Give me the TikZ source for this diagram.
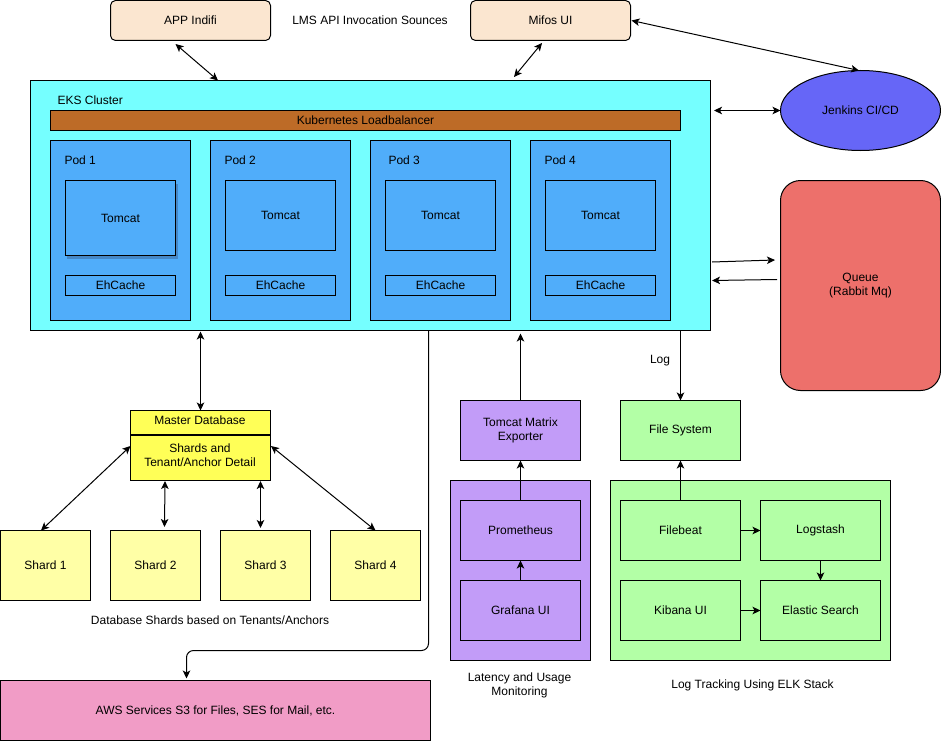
\documentclass[tikz,border=0pt]{standalone}
\usepackage{fontspec}
\setmainfont{Liberation Sans}
\usetikzlibrary{arrows.meta,shapes.geometric}
\definecolor{cPeach}{HTML}{FBE6D0}
\definecolor{cCyan}{HTML}{75FFFF}
\definecolor{cBrown}{HTML}{BD6B27}
\definecolor{cPod}{HTML}{50ADFA}
\definecolor{cPodDark}{HTML}{4588C8}
\definecolor{cJenkins}{HTML}{6666F7}
\definecolor{cQueue}{HTML}{ED706B}
\definecolor{cYellow}{HTML}{FFFF57}
\definecolor{cShard}{HTML}{FFFFA6}
\definecolor{cPurple}{HTML}{C29CF8}
\definecolor{cGreen}{HTML}{B3FFA6}
\definecolor{cPink}{HTML}{F19CC6}
\tikzset{
  box/.style={draw=black,line width=1pt,inner sep=0pt,outer sep=0pt,anchor=north west,
    align=center,font=\fontsize{12}{14}\selectfont},
  peach/.style={box,fill=cPeach,rounded corners=5pt},
  pod/.style={box,fill=cPod},
  yel/.style={box,fill=cYellow},
  shard/.style={box,fill=cShard,minimum width=90pt,minimum height=70pt},
  purp/.style={box,fill=cPurple},
  grn/.style={box,fill=cGreen},
  txt/.style={inner sep=0pt,outer sep=0pt,align=center,font=\fontsize{12}{14}\selectfont},
  txtl/.style={txt,anchor=west},
  link/.style={draw=black,line width=1pt,-{Stealth[length=8pt,width=7.5pt,inset=2pt]}},
  dlink/.style={draw=black,line width=1pt,{Stealth[length=8pt,width=7.5pt,inset=2pt]}-{Stealth[length=8pt,width=7.5pt,inset=2pt]}},
}
\begin{document}
\begin{tikzpicture}[x=1pt,y=-1pt]
\useasboundingbox (0,0) rectangle (941,741);
% top sources
\node[peach,minimum width=160pt,minimum height=40pt] (app) at (110.5,0.5) {APP Indifi};
\node[peach,minimum width=160pt,minimum height=40pt] (mifos) at (470.5,0.5) {Mifos UI};
\node[txt] (lms) at (370,20.5) {LMS API Invocation Sounces};
% EKS
\node[box,fill=cCyan,minimum width=680pt,minimum height=250pt] (eks) at (30.5,80.5) {};
\node[txtl] (ekslabel) at (57.5,100.5) {EKS Cluster};
\node[box,fill=cBrown,minimum width=630pt,minimum height=20pt] (lb) at (50.5,110.5) {Kubernetes Loadbalancer};
% pods
\node[pod,minimum width=140pt,minimum height=180pt] (pod1) at (50.5,140.5) {};
\node[pod,minimum width=140pt,minimum height=180pt] (pod2) at (210.5,140.5) {};
\node[pod,minimum width=140pt,minimum height=180pt] (pod3) at (370.5,140.5) {};
\node[pod,minimum width=140pt,minimum height=180pt] (pod4) at (530.5,140.5) {};
\node[txtl] (pod1l) at (64.5,160.5) {Pod 1};
\node[txtl] (pod2l) at (224.5,160.5) {Pod 2};
\node[txtl] (pod3l) at (388.5,160.5) {Pod 3};
\node[txtl] (pod4l) at (544.5,160.5) {Pod 4};
\fill[cPodDark] (66.8,183.5) rectangle (178,258.5);
\node[pod,minimum width=110pt,minimum height=75pt] (tc1) at (65.5,180.5) {Tomcat};
\node[pod,minimum width=110pt,minimum height=70pt] (tc2) at (225.5,180.5) {Tomcat};
\node[pod,minimum width=110pt,minimum height=70pt] (tc3) at (385.5,180.5) {Tomcat};
\node[pod,minimum width=110pt,minimum height=70pt] (tc4) at (545.5,180.5) {Tomcat};
\node[pod,minimum width=110pt,minimum height=20pt] (eh1) at (65.5,275.5) {EhCache};
\node[pod,minimum width=110pt,minimum height=20pt] (eh2) at (225.5,275.5) {EhCache};
\node[pod,minimum width=110pt,minimum height=20pt] (eh3) at (385.5,275.5) {EhCache};
\node[pod,minimum width=110pt,minimum height=20pt] (eh4) at (545.5,275.5) {EhCache};
% right
\node[draw=black,line width=1pt,fill=cJenkins,ellipse,inner sep=0pt,outer sep=0pt,minimum width=160pt,minimum height=80pt,
  font=\fontsize{12}{14}\selectfont] (jenkins) at (860.5,110.5) {Jenkins CI/CD};
\node[box,fill=cQueue,rounded corners=20pt,minimum width=160pt,minimum height=210pt] (queue) at (780.5,180.5) {Queue\\(Rabbit Mq)};
\node[txt] (loglabel) at (660,361) {Log};
% database
\node[yel,minimum width=140pt,minimum height=24pt] (mdb) at (130.5,410.5) {};
\node[txt] (mdbl) at (200,420.5) {Master Database};
\node[yel,minimum width=140pt,minimum height=45pt] (dbd) at (130.5,435.5) {};
\node[txt] (dbdl) at (200,455.5) {Shards and\\Tenant/Anchor Detail};
\node[shard] (s1) at (0.5,530.5) {Shard 1};
\node[shard] (s2) at (110.5,530.5) {Shard 2};
\node[shard] (s3) at (220.5,530.5) {Shard 3};
\node[shard] (s4) at (330.5,530.5) {Shard 4};
\node[txt] (dbnote) at (210,620.5) {Database Shards based on Tenants/Anchors};
\node[box,fill=cPink,minimum width=430pt,minimum height=60pt] (aws) at (0.5,680.5) {AWS Services S3 for Files, SES for Mail, etc.};
% monitoring
\node[purp,minimum width=120pt,minimum height=60pt] (matrix) at (460.5,400.5) {Tomcat Matrix\\Exporter};
\node[purp,minimum width=140pt,minimum height=180pt] (monbg) at (450.5,480.5) {};
\node[purp,minimum width=120pt,minimum height=60pt] (prom) at (460.5,500.5) {Prometheus};
\node[purp,minimum width=120pt,minimum height=60pt] (graf) at (460.5,580.5) {Grafana UI};
\node[txt] (monnote) at (519.5,685.7) {Latency and Usage\\Monitoring};
% logging
\node[grn,minimum width=120pt,minimum height=60pt] (fs) at (620.5,400.5) {File System};
\node[grn,minimum width=280pt,minimum height=180pt] (elkbg) at (610.5,480.5) {};
\node[grn,minimum width=120pt,minimum height=60pt] (fb) at (620.5,500.5) {Filebeat};
\node[grn,minimum width=120pt,minimum height=60pt] (ls) at (760.5,500.5) {Logstash};
\node[grn,minimum width=120pt,minimum height=60pt] (kb) at (620.5,580.5) {Kibana UI};
\node[grn,minimum width=120pt,minimum height=60pt] (es) at (760.5,580.5) {Elastic Search};
\node[txt] (elknote) at (752.5,685.7) {Log Tracking Using ELK Stack};
% connectors
\draw[dlink] ([shift={(-15,3.5)}]app.south) -- ([shift={(-152.5,0)}]eks.north);
\draw[dlink] ([shift={(-8.5,2.5)}]mifos.south) -- ([shift={(143.5,-3.5)}]eks.north);
\draw[dlink] ([shift={(1,0)}]mifos.east) -- ([shift={(-1.5,0)}]jenkins.north);
\draw[dlink] ([shift={(3.5,30)}]eks.north east) -- (jenkins.west);
\draw[link] ([shift={(1.5,56.5)}]eks.east) -- ([shift={(-5.5,-25.5)}]queue.west);
\draw[link] ([shift={(-3.5,-6)}]queue.west) -- ([shift={(1.5,75)}]eks.east);
\draw[link] ([shift={(310,0)}]eks.south) -- (fs.north);
\draw[link] (matrix.north) -- ([shift={(150,3)}]eks.south);
\draw[dlink] ([shift={(-170,1)}]eks.south) -- (mdb.north);
\draw[dlink] ([shift={(0,-12)}]dbd.west) -- ([shift={(-4.5,0)}]s1.north);
\draw[dlink] ([shift={(-35.5,0.5)}]dbd.south) -- ([shift={(9,-3.5)}]s2.north);
\draw[dlink] ([shift={(60,0.5)}]dbd.south) -- ([shift={(-5,-2.5)}]s3.north);
\draw[dlink] ([shift={(0.5,-12)}]dbd.east) -- (s4.north);
\coordinate (awsbend) at (186.5,650.5);
\draw[link,rounded corners=7pt] ([shift={(58,0)}]eks.south) |- (awsbend) -- ([shift={(-29,-2)}]aws.north);
\draw[link] (prom.north) -- (matrix.south);
\draw[link] (graf.north) -- (prom.south);
\draw[link] (fb.north) -- (fs.south);
\draw[link] (fb.east) -- (ls.west);
\draw[link] (ls.south) -- (es.north);
\draw[link] (kb.east) -- (es.west);
\end{tikzpicture}
\end{document}
